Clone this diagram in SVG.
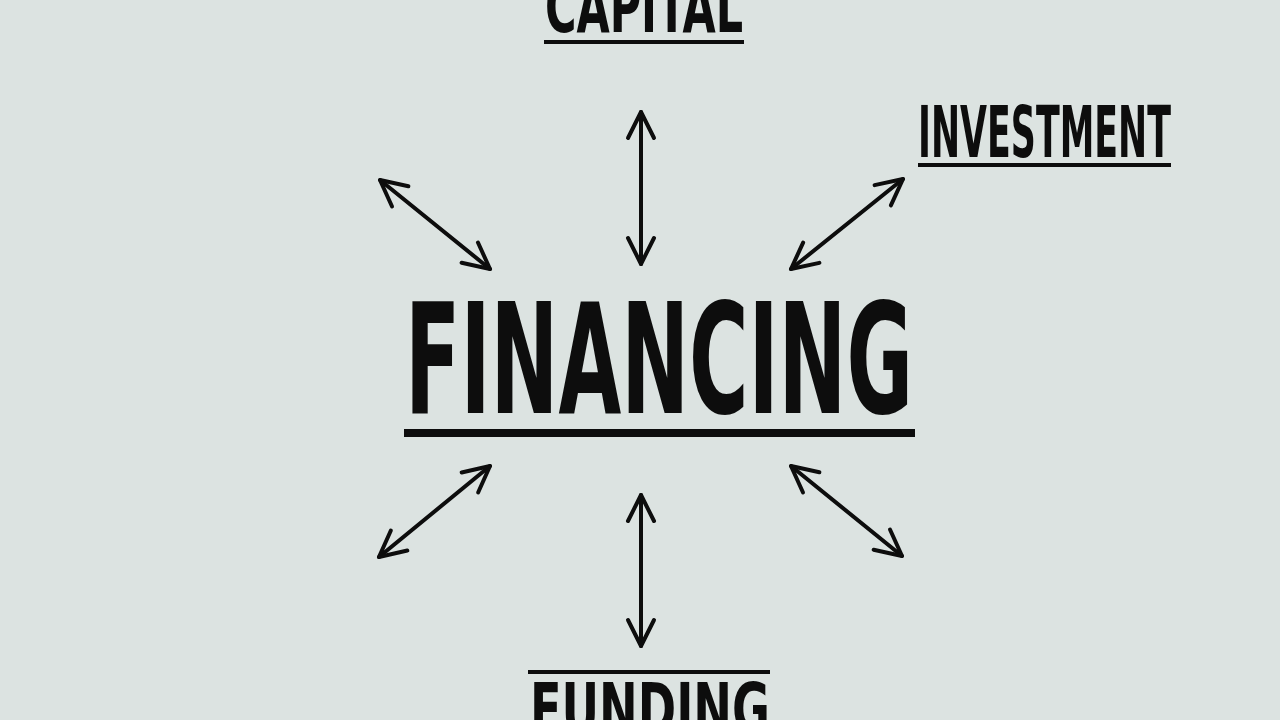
<svg xmlns="http://www.w3.org/2000/svg" width="1280" height="720" viewBox="0 0 1280 720">
  <style>
    .lbl { font-family: "DejaVu Sans", "Liberation Sans", sans-serif; font-stretch: condensed; font-style: normal; font-weight: bold; fill: #0d0d0d; }
    .ul { fill: #0d0d0d; }
    .conn { stroke: #0d0d0d; stroke-width: 4; fill: none; stroke-linecap: round; marker-start: url(#head); marker-end: url(#head); }
  </style>
  <defs>
    <marker id="head" markerUnits="userSpaceOnUse" viewBox="-30 -16 34 32" refX="0" refY="0" markerWidth="34" markerHeight="32" orient="auto-start-reverse">
      <path d="M-26,-13 L0,0 L-26,13" fill="none" stroke="#0d0d0d" stroke-width="4" stroke-linecap="round" stroke-linejoin="round"/>
    </marker>
  </defs>
  <rect x="0" y="0" width="1280" height="720" fill="#dce3e1"/>

  <g id="connectors">
    <line class="conn" x1="380" y1="180" x2="490" y2="269"/>
    <line class="conn" x1="641" y1="112" x2="641" y2="264"/>
    <line class="conn" x1="903" y1="179" x2="791" y2="269"/>
    <line class="conn" x1="490" y1="466" x2="379" y2="557"/>
    <line class="conn" x1="641" y1="495" x2="641" y2="646"/>
    <line class="conn" x1="791" y1="466" x2="902" y2="556"/>
  </g>

  <g id="capital">
    <text class="lbl" x="545" y="32" font-size="72" textLength="198" lengthAdjust="spacingAndGlyphs">CAPITAL</text>
    <rect class="ul" x="544" y="40" width="200" height="4"/>
  </g>

  <g id="investment">
    <text class="lbl" x="918" y="157" font-size="72" textLength="253" lengthAdjust="spacingAndGlyphs">INVESTMENT</text>
    <rect class="ul" x="918" y="163" width="253" height="4"/>
  </g>

  <g id="financing">
    <text class="lbl" x="405" y="413" font-size="154" textLength="508" lengthAdjust="spacingAndGlyphs">FINANCING</text>
    <rect class="ul" x="404" y="429" width="511" height="8"/>
  </g>

  <g id="funding">
    <rect class="ul" x="528" y="670" width="242" height="4"/>
    <text class="lbl" x="530" y="734" font-size="72" textLength="240" lengthAdjust="spacingAndGlyphs">FUNDING</text>
  </g>
</svg>
